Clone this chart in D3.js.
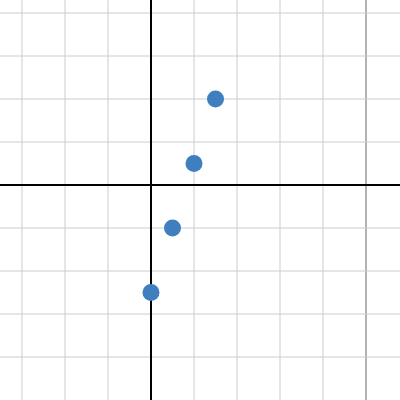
<!DOCTYPE html>
<html><head><meta charset="utf-8">
<script src="https://cdn.jsdelivr.net/npm/d3@7"></script>
<style>body{margin:0;background:#fff}</style></head>
<body><svg id="c" width="400" height="400"></svg>
<script>
const xs = [0, 0.5, 1, 1.5];
const ys = [-2.5, -1, 0.5, 2];
const gridX = [-3,-2,-1,1,2,3,4,5];
const gridY = [-4,-3,-2,-1,1,2,3,4];
const svg = d3.select("#c");
const x = d3.scaleLinear().domain([-151/43, 249/43]).range([0,400]);
const y = d3.scaleLinear().domain([185/43, -215/43]).range([0,400]);
svg.selectAll(".gx").data(gridX).enter().append("line")
  .attr("x1",d=>x(d)).attr("x2",d=>x(d)).attr("y1",0).attr("y2",400)
  .attr("stroke",d=>d===5?"#999":"#ccc").attr("stroke-width",d=>d===5?1.5:1);
svg.selectAll(".gy").data(gridY).enter().append("line")
  .attr("y1",d=>y(d)).attr("y2",d=>y(d)).attr("x1",0).attr("x2",400)
  .attr("stroke","#ccc").attr("stroke-width",1);
svg.append("line").attr("x1",x(0)).attr("x2",x(0)).attr("y1",0).attr("y2",400).attr("stroke","#000").attr("stroke-width",2);
svg.append("line").attr("y1",y(0)).attr("y2",y(0)).attr("x1",0).attr("x2",400).attr("stroke","#000").attr("stroke-width",2);
svg.selectAll("circle").data(xs).enter().append("circle")
  .attr("cx",d=>x(d)).attr("cy",(d,i)=>y(ys[i])).attr("r",8.5).attr("fill","#3f7fbf");
</script></body></html>
